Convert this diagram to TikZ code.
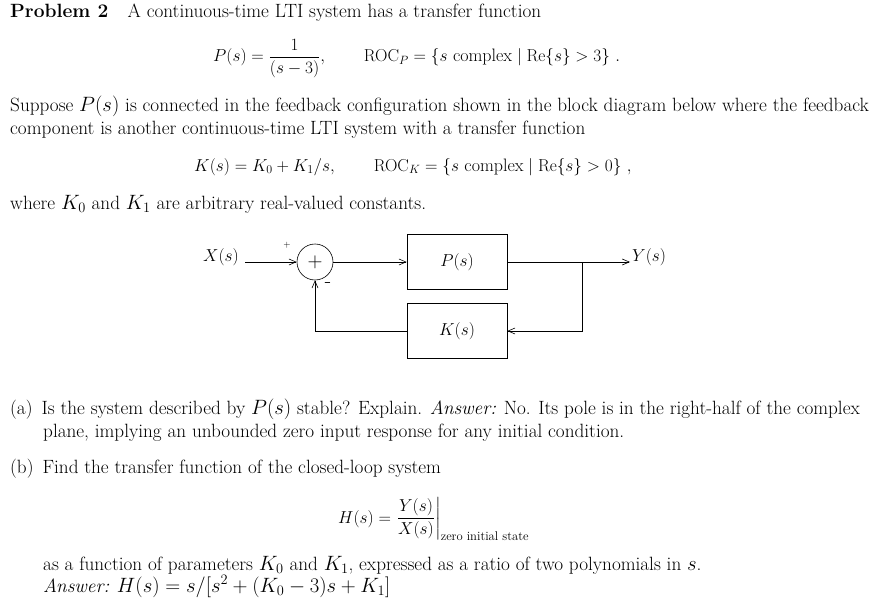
\documentclass[tikz,border=0pt]{standalone}
\usepackage{amsmath}
\usetikzlibrary{arrows.meta}
\begin{document}
\begin{tikzpicture}[x=1pt,y=-1pt,
  txt/.style={anchor=base west,inner sep=0pt,font=\fontsize{19.2}{23}\selectfont},
  eq/.style={anchor=base west,inner sep=0pt,font=\fontsize{18}{22}\selectfont},
  blk/.style={draw,minimum width=100pt,minimum height=55pt,inner sep=0pt,line width=0.6pt,font=\fontsize{18}{21}\selectfont},
  sig/.style={inner sep=0pt,font=\fontsize{18}{21}\selectfont},
  arr/.style={-{Straight Barb[length=7pt,width=6pt]},line width=0.6pt}]
\useasboundingbox (0,0) rectangle (879,602);
\node[txt] (t1) at (10,18) {\textbf{Problem 2}\quad A continuous-time LTI system has a transfer function};
\node[eq] (e1) at (213,62) {$\displaystyle P(s)=\frac{1}{(s-3)},\qquad \mathrm{ROC}_P=\{s\text{ complex}\mid \mathrm{Re}\{s\}>3\}\ .$};
\node[txt] (t2) at (10,111) {Suppose $P(s)$ is connected in the feedback configuration shown in the block diagram below where the feedback};
\node[txt] (t3) at (10,134) {component is another continuous-time LTI system with a transfer function};
\node[eq] (e2) at (194,171) {$K(s)=K_0+K_1/s,\qquad \mathrm{ROC}_K=\{s\text{ complex}\mid \mathrm{Re}\{s\}>0\}\ ,$};
\node[txt] (t4) at (10,209) {where $K_0$ and $K_1$ are arbitrary real-valued constants.};
% diagram
\node[sig,anchor=east] (x) at (239,257) {$X(s)$};
\node[draw,circle,minimum size=36pt,inner sep=0pt,line width=0.6pt] (sum) at (315,262) {\huge$+$};
\node[blk] (P) at (457,262) {$P(s)$};
\node[blk] (K) at (457,331) {$K(s)$};
\node[sig,anchor=west] (y) at (632,257) {$Y(s)$};
\coordinate (br) at (582,262);
\coordinate (ye) at (630,262);
\draw[arr] (245,262) -- (sum.west);
\draw[arr] (sum.east) -- (P.west);
\draw[line width=0.6pt] (P.east) -- (br);
\draw[arr] (br) -- (ye);
\draw[arr] (br) |- (K.east);
\draw[arr] (K.west) -| (sum.south);
\node[sig,font=\small] (pl) at (287,245) {+};
\node[sig,font=\huge] (mi) at (328,285) {-};
% parts
\node[txt] (a1) at (10,414) {(a)\ \,Is the system described by $P(s)$ stable? Explain. \textit{Answer:} No. Its pole is in the right-half of the complex};
\node[txt] (a2) at (43,437) {plane, implying an unbounded zero input response for any initial condition.};
\node[txt] (b1) at (10,473) {(b)\ \,Find the transfer function of the closed-loop system};
\node[eq] (h) at (338,523) {$\displaystyle H(s)=\left.\frac{Y(s)}{X(s)}\right|_{\text{zero initial state}}$};
\node[txt] (b2) at (43,570) {as a function of parameters $K_0$ and $K_1$, expressed as a ratio of two polynomials in $s$.};
\node[txt] (b3) at (43,592) {\textit{Answer:} $H(s)=s/[s^2+(K_0-3)s+K_1]$};
\end{tikzpicture}
\end{document}
